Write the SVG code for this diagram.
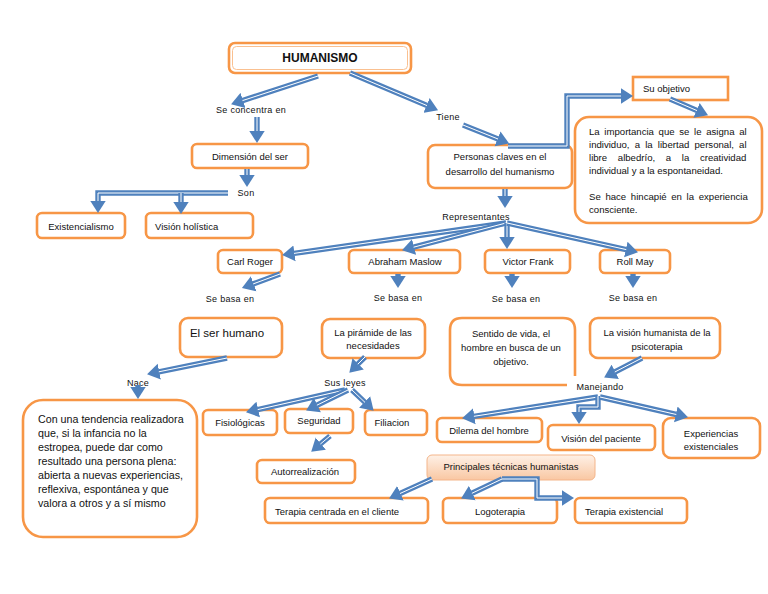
<svg xmlns="http://www.w3.org/2000/svg" xmlns:xlink="http://www.w3.org/1999/xlink" width="768" height="594" viewBox="0 0 768 594">
<style>
.b{fill:#fff;stroke:#F79646;stroke-width:2.6}
.t{font-family:"Liberation Sans",Arial,sans-serif;font-size:9.5px;fill:#111;text-anchor:middle}
.s{font-family:"Liberation Sans",Arial,sans-serif;font-size:9px;letter-spacing:0.3px;fill:#111;text-anchor:middle}
.l{text-anchor:start}
.r{font-size:9.6px}
.o{fill:none;stroke:#4F81BD;stroke-width:5.4;marker-end:url(#ah)}
.i{fill:none;stroke:#fff;stroke-width:1}
</style>
<defs>
<marker id="ah" markerUnits="userSpaceOnUse" markerWidth="14" markerHeight="17" viewBox="0 -8.5 14 17" refX="0.5" refY="0" orient="auto">
<path d="M0,-8 L12.5,0 L0,8 Z" fill="#4F81BD"/>
</marker>
<linearGradient id="pg" x1="0" y1="0" x2="0" y2="1">
<stop offset="0" stop-color="#FEF1E7"/>
<stop offset="1" stop-color="#F9C7A2"/>
</linearGradient>
<path id="c1" d="M318,76 L242.5,100.6"/>
<path id="c2" d="M350,73 L427,105.6"/>
<path id="c3" d="M257,117 L257,131"/>
<path id="c4" d="M463,125 L498,139"/>
<path id="c5" d="M247,169 L247,175"/>
<path id="c6" d="M228,193 L98,193 L98,201"/>
<path id="c7" d="M181,193 L181,202"/>
<path id="c8" d="M508,146 L567,146 L567,96 L621,96"/>
<path id="c9" d="M670,99 L697,110.6"/>
<path id="c10" d="M505,189 L505,196"/>
<path id="c11" d="M506,223 L294,253.4"/>
<path id="c12" d="M506,223 L413.6,247.2"/>
<path id="c13" d="M507,223 L507,237"/>
<path id="c14" d="M507,223 L626.3,249.6"/>
<path id="c15" d="M280,274 L253.2,283.9"/>
<path id="c16" d="M398,274 L398,276"/>
<path id="c17" d="M512,274 L512,276"/>
<path id="c18" d="M633,274 L633,276"/>
<path id="c19" d="M227,358 L158.8,371.8"/>
<path id="c20" d="M138,385 L138,387"/>
<path id="c21" d="M365,357 L357.8,364.2"/>
<path id="c22" d="M345,390 L257.7,409.6"/>
<path id="c23" d="M348,390 L316.9,405.2"/>
<path id="c24" d="M352,390 L365,402.4"/>
<path id="c25" d="M330,436 L320.4,444"/>
<path id="c26" d="M642,358 L614.8,372"/>
<path id="c27" d="M598,397 L473.9,416.3"/>
<path id="c28" d="M598,396 L598,407 L579,407 L579,412"/>
<path id="c29" d="M600,397 L676.3,414.5"/>
<path id="c30" d="M432,479 L400,493.5"/>
<path id="c31" d="M502,479 L471.9,493.3"/>
<path id="c32" d="M502,479 L537,479 L537,498 L562,498"/>
</defs>
<rect width="768" height="594" fill="#fff"/>

<g id="n-humanismo">
<rect class="b" x="229" y="43" width="182" height="30" rx="6" stroke-width="3"/>
<rect x="232.5" y="46.5" width="175" height="23" rx="4" fill="none" stroke="#FAC090" stroke-width="1"/>
<text class="t" x="320" y="62" style="font-size:12px;font-weight:bold">HUMANISMO</text>
</g>
<g id="n-concentra"><text class="s" x="251" y="113">Se concentra en</text></g>
<g id="n-tiene"><text class="s" x="448" y="120">Tiene</text></g>
<g id="n-dimension">
<rect class="b" x="192" y="144" width="116" height="24" rx="5"/>
<text class="t" x="250" y="160">Dimensión del ser</text>
</g>
<g id="n-son"><text class="s" x="246" y="196">Son</text></g>
<g id="n-existencialismo">
<rect class="b" x="37" y="213" width="88" height="25" rx="5"/>
<text class="t" x="81" y="230">Existencialismo</text>
</g>
<g id="n-holistica">
<rect class="b" x="146" y="213" width="107" height="25" rx="5"/>
<text class="t l" x="155" y="230">Visión holística</text>
</g>
<g id="n-personas">
<rect class="b" x="428" y="145" width="144" height="43" rx="7"/>
<text class="t" x="500" y="160">Personas claves en el</text>
<text class="t" x="500" y="175">desarrollo del humanismo</text>
</g>
<g id="n-objetivo">
<rect class="b" x="633" y="77" width="95" height="23"/>
<text class="t l" x="643" y="92">Su objetivo</text>
</g>
<g id="n-importancia">
<rect class="b" x="575" y="117" width="187" height="106" rx="14"/>
<text class="t l r" x="589" y="135" word-spacing="2">La importancia que se le asigna al</text>
<text class="t l r" x="589" y="148" word-spacing="2.5">individuo, a la libertad personal, al</text>
<text class="t l r" x="589" y="161" word-spacing="8">libre albedrío, a la creatividad</text>
<text class="t l r" x="589" y="174">individual y a la espontaneidad.</text>
<text class="t l r" x="589" y="200" word-spacing="2">Se hace hincapié en la experiencia</text>
<text class="t l r" x="589" y="213">consciente.</text>
</g>
<g id="n-representantes"><text class="s" x="476" y="220">Representantes</text></g>
<g id="n-carl">
<rect class="b" x="218" y="250" width="64" height="23" rx="5"/>
<text class="t" x="250" y="265">Carl Roger</text>
</g>
<g id="n-maslow">
<rect class="b" x="349" y="250" width="111" height="23" rx="5"/>
<text class="t" x="405" y="265">Abraham Maslow</text>
</g>
<g id="n-victor">
<rect class="b" x="485" y="250" width="85" height="23" rx="5"/>
<text class="t" x="528" y="265">Victor Frank</text>
</g>
<g id="n-roll">
<rect class="b" x="600" y="250" width="70" height="23" rx="5"/>
<text class="t" x="635" y="265">Roll May</text>
</g>
<g id="n-basa1"><text class="s" x="230" y="302">Se basa en</text></g>
<g id="n-basa2"><text class="s" x="398" y="301">Se basa en</text></g>
<g id="n-basa3"><text class="s" x="516" y="302">Se basa en</text></g>
<g id="n-basa4"><text class="s" x="633" y="301">Se basa en</text></g>
<g id="n-serhumano">
<rect class="b" x="180" y="318" width="102" height="39" rx="8"/>
<text class="t" x="227" y="337" style="font-size:11.5px">El ser humano</text>
</g>
<g id="n-nace"><text class="s" x="138" y="386">Nace</text></g>
<g id="n-tendencia">
<rect class="b" x="23" y="400" width="174" height="137" rx="20"/>
<text class="t l" x="38" y="423" style="font-size:10.7px">Con una tendencia realizadora</text>
<text class="t l" x="38" y="437" style="font-size:10.7px">que, si la infancia no la</text>
<text class="t l" x="38" y="451" style="font-size:10.7px">estropea, puede dar como</text>
<text class="t l" x="38" y="465" style="font-size:10.7px">resultado una persona plena:</text>
<text class="t l" x="38" y="479" style="font-size:10.7px">abierta a nuevas experiencias,</text>
<text class="t l" x="38" y="493" style="font-size:10.7px">reflexiva, espontánea y que</text>
<text class="t l" x="38" y="507" style="font-size:10.7px">valora a otros y a sí mismo</text>
</g>
<g id="n-piramide">
<rect class="b" x="322" y="319" width="103" height="39" rx="8"/>
<text class="t" x="373" y="336">La pirámide de las</text>
<text class="t" x="373" y="349">necesidades</text>
</g>
<g id="n-leyes"><text class="s" x="345" y="386">Sus leyes</text></g>
<g id="n-fisiologicas">
<rect class="b" x="203" y="410" width="74" height="25" rx="5"/>
<text class="t" x="240" y="426">Fisiológicas</text>
</g>
<g id="n-seguridad">
<rect class="b" x="285" y="409" width="68" height="24" rx="5"/>
<text class="t" x="319" y="424">Seguridad</text>
</g>
<g id="n-filiacion">
<rect class="b" x="365" y="410" width="62" height="25" rx="5"/>
<text class="t" x="392" y="426">Filiacion</text>
</g>
<g id="n-autorrealizacion">
<rect class="b" x="257" y="460" width="98" height="23" rx="5"/>
<text class="t" x="305" y="475">Autorrealización</text>
</g>
<g id="n-sentido">
<path class="b" d="M575,376 L575,330 Q575,318 563,318 L462,318 Q450,318 450,330 L450,373 Q450,385 462,385 L567,385"/>
<text class="t" x="511" y="337">Sentido de vida, el</text>
<text class="t" x="511" y="351">hombre en busca de un</text>
<text class="t" x="511" y="365">objetivo.</text>
</g>
<g id="n-vision">
<rect class="b" x="590" y="318" width="130" height="40" rx="8"/>
<text class="t" x="657" y="336">La visión humanista de la</text>
<text class="t" x="657" y="350">psicoterapia</text>
</g>
<g id="n-manejando"><text class="s" x="600" y="390">Manejando</text></g>
<g id="n-dilema">
<rect class="b" x="437" y="418" width="105" height="24" rx="5"/>
<text class="t" x="489" y="434">Dilema del hombre</text>
</g>
<g id="n-paciente">
<rect class="b" x="548" y="425" width="107" height="25" rx="5"/>
<text class="t" x="601" y="442">Visión del paciente</text>
</g>
<g id="n-experiencias">
<rect class="b" x="663" y="418" width="97" height="40" rx="8"/>
<text class="t" x="711" y="437">Experiencias</text>
<text class="t" x="711" y="450">existenciales</text>
</g>
<g id="n-principales">
<rect x="427" y="455" width="168" height="25" rx="5" fill="url(#pg)" stroke="#F4B58A" stroke-width="1"/>
<text class="t" x="511" y="470">Principales técnicas humanistas</text>
</g>
<g id="n-centrada">
<rect class="b" x="265" y="498" width="163" height="25" rx="5"/>
<text class="t l" x="275" y="515">Terapia centrada en el cliente</text>
</g>
<g id="n-logoterapia">
<rect class="b" x="443" y="498" width="114" height="25" rx="5"/>
<text class="t" x="500" y="515">Logoterapia</text>
</g>
<g id="n-existencial">
<rect class="b" x="575" y="498" width="112" height="25" rx="5"/>
<text class="t l" x="585" y="515">Terapia existencial</text>
</g>

<g id="connectors">
<use xlink:href="#c1" class="o"/><use xlink:href="#c1" class="i"/>
<use xlink:href="#c2" class="o"/><use xlink:href="#c2" class="i"/>
<use xlink:href="#c3" class="o"/><use xlink:href="#c3" class="i"/>
<use xlink:href="#c4" class="o"/><use xlink:href="#c4" class="i"/>
<use xlink:href="#c5" class="o"/><use xlink:href="#c5" class="i"/>
<use xlink:href="#c6" class="o"/><use xlink:href="#c6" class="i"/>
<use xlink:href="#c7" class="o"/><use xlink:href="#c7" class="i"/>
<use xlink:href="#c8" class="o"/><use xlink:href="#c8" class="i"/>
<use xlink:href="#c9" class="o"/><use xlink:href="#c9" class="i"/>
<use xlink:href="#c10" class="o"/><use xlink:href="#c10" class="i"/>
<use xlink:href="#c11" class="o"/><use xlink:href="#c11" class="i"/>
<use xlink:href="#c12" class="o"/><use xlink:href="#c12" class="i"/>
<use xlink:href="#c13" class="o"/><use xlink:href="#c13" class="i"/>
<use xlink:href="#c14" class="o"/><use xlink:href="#c14" class="i"/>
<use xlink:href="#c15" class="o"/><use xlink:href="#c15" class="i"/>
<use xlink:href="#c16" class="o"/>
<use xlink:href="#c17" class="o"/>
<use xlink:href="#c18" class="o"/>
<use xlink:href="#c19" class="o"/><use xlink:href="#c19" class="i"/>
<use xlink:href="#c20" class="o"/>
<use xlink:href="#c21" class="o"/><use xlink:href="#c21" class="i"/>
<use xlink:href="#c22" class="o"/><use xlink:href="#c22" class="i"/>
<use xlink:href="#c23" class="o"/><use xlink:href="#c23" class="i"/>
<use xlink:href="#c24" class="o"/><use xlink:href="#c24" class="i"/>
<use xlink:href="#c25" class="o"/><use xlink:href="#c25" class="i"/>
<use xlink:href="#c26" class="o"/><use xlink:href="#c26" class="i"/>
<use xlink:href="#c27" class="o"/><use xlink:href="#c27" class="i"/>
<use xlink:href="#c28" class="o"/><use xlink:href="#c28" class="i"/>
<use xlink:href="#c29" class="o"/><use xlink:href="#c29" class="i"/>
<use xlink:href="#c30" class="o"/><use xlink:href="#c30" class="i"/>
<use xlink:href="#c31" class="o"/><use xlink:href="#c31" class="i"/>
<use xlink:href="#c32" class="o"/><use xlink:href="#c32" class="i"/>
</g>
</svg>
